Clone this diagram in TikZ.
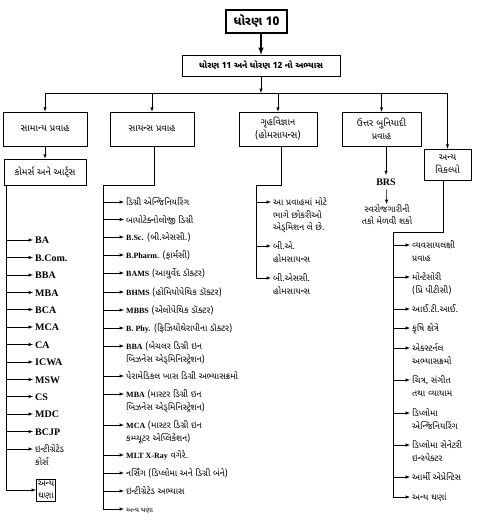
\documentclass[tikz,border=0pt]{standalone}
\usepackage{fontspec}
\setmainfont{Liberation Serif}
\newfontfamily\guj[Script=Gujarati]{Noto Sans Gujarati UI}
\usetikzlibrary{calc}
\def\lat#1{{\rmfamily\bfseries\fontsize{10}{12}\selectfont #1}}
\def\latsm#1{{\rmfamily\bfseries\fontsize{8}{12}\selectfont #1}}
\def\stack#1{\begin{tabular}[t]{@{}l@{}}#1\end{tabular}}
\def\branch(#1)(#2){\draw[arr] ($(#1 |- #2.base west)+(0,3.5pt)$) -- ($(#2.base west)+(0,3.5pt)$);}
\tikzset{
	box/.style={draw, line width=0.6pt, align=center, inner sep=2pt, font=\guj\fontsize{9.5}{13}\selectfont},
	item/.style={anchor=base west, inner xsep=2pt, inner ysep=0pt, font=\guj\fontsize{9}{12.5}\selectfont},
	arr/.style={-latex, line width=0.5pt},
}

\begin{document}
\begin{tikzpicture}[x=1pt,y=-1pt]
		%%%%% START %%%%%
		\useasboundingbox (0,0) rectangle (482,527);
		
		\node[box, line width=1.4pt, font=\guj\bfseries\fontsize{12}{14}\selectfont, minimum width=61, minimum height=23] (top) at (256.5,21.5) {ધોરણ 10};
		\node[box, font=\guj\bfseries\fontsize{8.5}{12}\selectfont, minimum width=158, minimum height=21] (std) at (261,65.5) {ધોરણ 11 અને ધોરણ 12 નો અભ્યાસ};
		\draw[line width=1.4pt, -latex] (top.south -| std.north) -- (std.north);
		
		\node[box, minimum width=84, minimum height=34] (gen) at (45,129) {સામાન્ય પ્રવાહ};
		\node[box, minimum width=84, minimum height=34] (sci) at (152,129) {સાયન્સ પ્રવાહ};
		\node[box, minimum width=78, minimum height=34] (home) at (278,129) {ગૃહવિજ્ઞાન\\(હોમસાયન્સ)};
		\node[box, minimum width=79, minimum height=34] (uttar) at (381.5,129) {ઉત્તર બુનિયાદી\\પ્રવાહ};
		\node[box, minimum width=47, minimum height=31] (other) at (447.5,164.5) {અન્ય\\વિકલ્પો};
		
		\coordinate (bus) at (261,93);
		\draw[arr] (std.south) -- (bus);
		\draw[line width=0.5pt] (bus -| gen.north) -- (bus -| other.north);
		\draw[arr] (bus -| gen.north) -- (gen.north);
		\draw[arr] (bus -| sci.north) -- (sci.north);
		\draw[arr] (bus -| home.north) -- (home.north);
		\draw[arr] (bus -| uttar.north) -- (uttar.north);
		\draw[arr] (bus -| other.north) -- (other.north);
		
		% commerce and arts
		\node[box, minimum width=82, minimum height=26] (com) at (45,172) {કોમર્સ અને આર્ટ્સ};
		\draw[arr] (gen) -- (com);
		\coordinate (ctrunk) at ([xshift=3]com.south west);
		\node[item] (c1) at (33,243.5) {\lat{BA}};
		\node[item] (c2) at (33,261) {\lat{B.Com.}};
		\node[item] (c3) at (33,278.5) {\lat{BBA}};
		\node[item] (c4) at (33,296) {\lat{MBA}};
		\node[item] (c5) at (33,313) {\lat{BCA}};
		\node[item] (c6) at (33,330.5) {\lat{MCA}};
		\node[item] (c7) at (33,348) {\lat{CA}};
		\node[item] (c8) at (33,365.5) {\lat{ICWA}};
		\node[item] (c9) at (33,383) {\lat{MSW}};
		\node[item] (c10) at (33,400) {\lat{CS}};
		\node[item] (c11) at (33,417.5) {\lat{MDC}};
		\node[item] (c12) at (33,435) {\lat{BCJP}};
		\node[item] (c13) at (33,452.5) {\stack{ઇન્ટીગ્રેટેડ\\કોર્સ}};
		\node[box, anchor=west, inner sep=1.5pt, font=\guj\fontsize{9}{12}\selectfont] (c14) at (36,490) {અન્ય\\ઘણા};
		\draw[arr] (ctrunk) |- (c14.west);
		\branch(ctrunk)(c1) \branch(ctrunk)(c2) \branch(ctrunk)(c3) \branch(ctrunk)(c4)
		\branch(ctrunk)(c5) \branch(ctrunk)(c6) \branch(ctrunk)(c7) \branch(ctrunk)(c8)
		\branch(ctrunk)(c9) \branch(ctrunk)(c10) \branch(ctrunk)(c11) \branch(ctrunk)(c12)
		\branch(ctrunk)(c13)
		
		% science
		\coordinate (strunk) at (103,185);
		\draw[line width=0.5pt] ([xshift=2]sci.south) |- (strunk);
		\node[item] (s1) at (124,205.5) {ડિગ્રી એન્જિનિયરિંગ};
		\node[item] (s2) at (124,223) {બાયોટેક્નોલોજી ડિગ્રી};
		\node[item] (s3) at (124,240.5) {\latsm{B.Sc.} (બી.એસસી.)};
		\node[item] (s4) at (124,258.5) {\latsm{B.Pharm.} (ફાર્મસી)};
		\node[item] (s5) at (124,276.5) {\latsm{BAMS} (આયુર્વેદ ડૉક્ટર)};
		\node[item] (s6) at (124,295.5) {\latsm{BHMS} (હોમિયોપેથિક ડૉક્ટર)};
		\node[item] (s7) at (124,313.5) {\latsm{MBBS} (એલોપેથિક ડૉક્ટર)};
		\node[item] (s8) at (124,331.5) {\latsm{B. Phy.} (ફિઝિયોથેરાપીના ડૉક્ટર)};
		\node[item] (s9) at (124,349.5) {\stack{\latsm{BBA} (બેચલર ડિગ્રી ઇન\\બિઝનેસ એડ્મિનિસ્ટ્રેશન)}};
		\node[item] (s10) at (124,379.5) {પેરામેડિકલ ખાસ ડિગ્રી અભ્યાસક્રમો};
		\node[item] (s11) at (124,397.5) {\stack{\latsm{MBA} (માસ્ટર ડિગ્રી ઇન\\બિઝનેસ એડ્મિનિસ્ટ્રેશન)}};
		\node[item] (s12) at (124,428.5) {\stack{\latsm{MCA} (માસ્ટર ડિગ્રી ઇન\\કમ્પ્યૂટર એપ્લિકેશન)}};
		\node[item] (s13) at (124,458.5) {\latsm{MLT X-Ray} વગેરે.};
		\node[item] (s14) at (124,476.5) {નર્સિંગ (ડિપ્લોમા અને ડિગ્રી બંને)};
		\node[item] (s15) at (124,494.5) {ઇન્ટીગ્રેટેડ અભ્યાસ};
		\node[item, font=\guj\fontsize{7}{8}\selectfont] (s16) at (124,512) {અન્ય ઘણા};
		\draw[arr] (strunk) |- ($(s16.base west)+(0,3pt)$);
		\branch(strunk)(s1) \branch(strunk)(s2) \branch(strunk)(s3) \branch(strunk)(s4)
		\branch(strunk)(s5) \branch(strunk)(s6) \branch(strunk)(s7) \branch(strunk)(s8)
		\branch(strunk)(s9) \branch(strunk)(s10) \branch(strunk)(s11) \branch(strunk)(s12)
		\branch(strunk)(s13) \branch(strunk)(s14) \branch(strunk)(s15)
		
		% home science
		\coordinate (htrunk) at (256,185);
		\draw[line width=0.5pt] ([xshift=3]home.south) |- (htrunk);
		\node[item] (h1) at (271,205.5) {\stack{આ પ્રવાહમાં મોટે\\ભાગે છોકરીઓ\\એડ્મિશન લે છે.}};
		\node[item] (h2) at (271,249.5) {\stack{બી.એ.\\હોમસાયન્સ}};
		\node[item] (h3) at (271,281.5) {\stack{બી.એસસી.\\હોમસાયન્સ}};
		\draw[arr] (htrunk) |- ($(h3.base west)+(0,3.5pt)$);
		\branch(htrunk)(h1) \branch(htrunk)(h2)
		
		% uttar buniyadi
		\node (brs) at (386,182) {\lat{BRS}};
		\draw[arr] (uttar.south -| brs) -- (brs);
		\node[item, anchor=north, align=center] (self) at (387,204) {સ્વરોજગારીની\\તકો મેળવી શકો};
		\draw[arr] (brs) -- (self);
		
		% other options
		\coordinate (otrunk) at (393,232);
		\draw[line width=0.5pt] ([xshift=-4.5]other.south) |- (otrunk);
		\node[item] (o1) at (410,248.5) {\stack{વ્યવસાયલક્ષી\\પ્રવાહ}};
		\node[item] (o2) at (410,280.5) {\stack{મોન્ટેસોરી\\(પ્રિ પીટીસી)}};
		\node[item] (o3) at (410,312.5) {આઈ.ટી.આઈ.};
		\node[item] (o4) at (410,331.5) {કૃષિ ક્ષેત્રે};
		\node[item] (o5) at (410,351.5) {\stack{એક્સ્ટર્નલ\\અભ્યાસક્રમો}};
		\node[item] (o6) at (410,383.5) {\stack{ચિત્ર, સંગીત\\તથા વ્યાયામ}};
		\node[item] (o7) at (410,416.5) {\stack{ડિપ્લોમા\\એન્જિનિયરિંગ}};
		\node[item] (o8) at (410,448.5) {\stack{ડિપ્લોમા સેનેટરી\\ઇન્સ્પેક્ટર}};
		\node[item] (o9) at (410,480.5) {આર્મી એપ્રેન્ટિસ};
		\node[item] (o10) at (410,500.5) {અન્ય ઘણાં};
		\draw[arr] (otrunk) |- ($(o10.base west)+(0,3.5pt)$);
		\branch(otrunk)(o1) \branch(otrunk)(o2) \branch(otrunk)(o3) \branch(otrunk)(o4)
		\branch(otrunk)(o5) \branch(otrunk)(o6) \branch(otrunk)(o7) \branch(otrunk)(o8)
		\branch(otrunk)(o9)
		
		%%%%% END %%%%%
	\end{tikzpicture}
\end{document}
